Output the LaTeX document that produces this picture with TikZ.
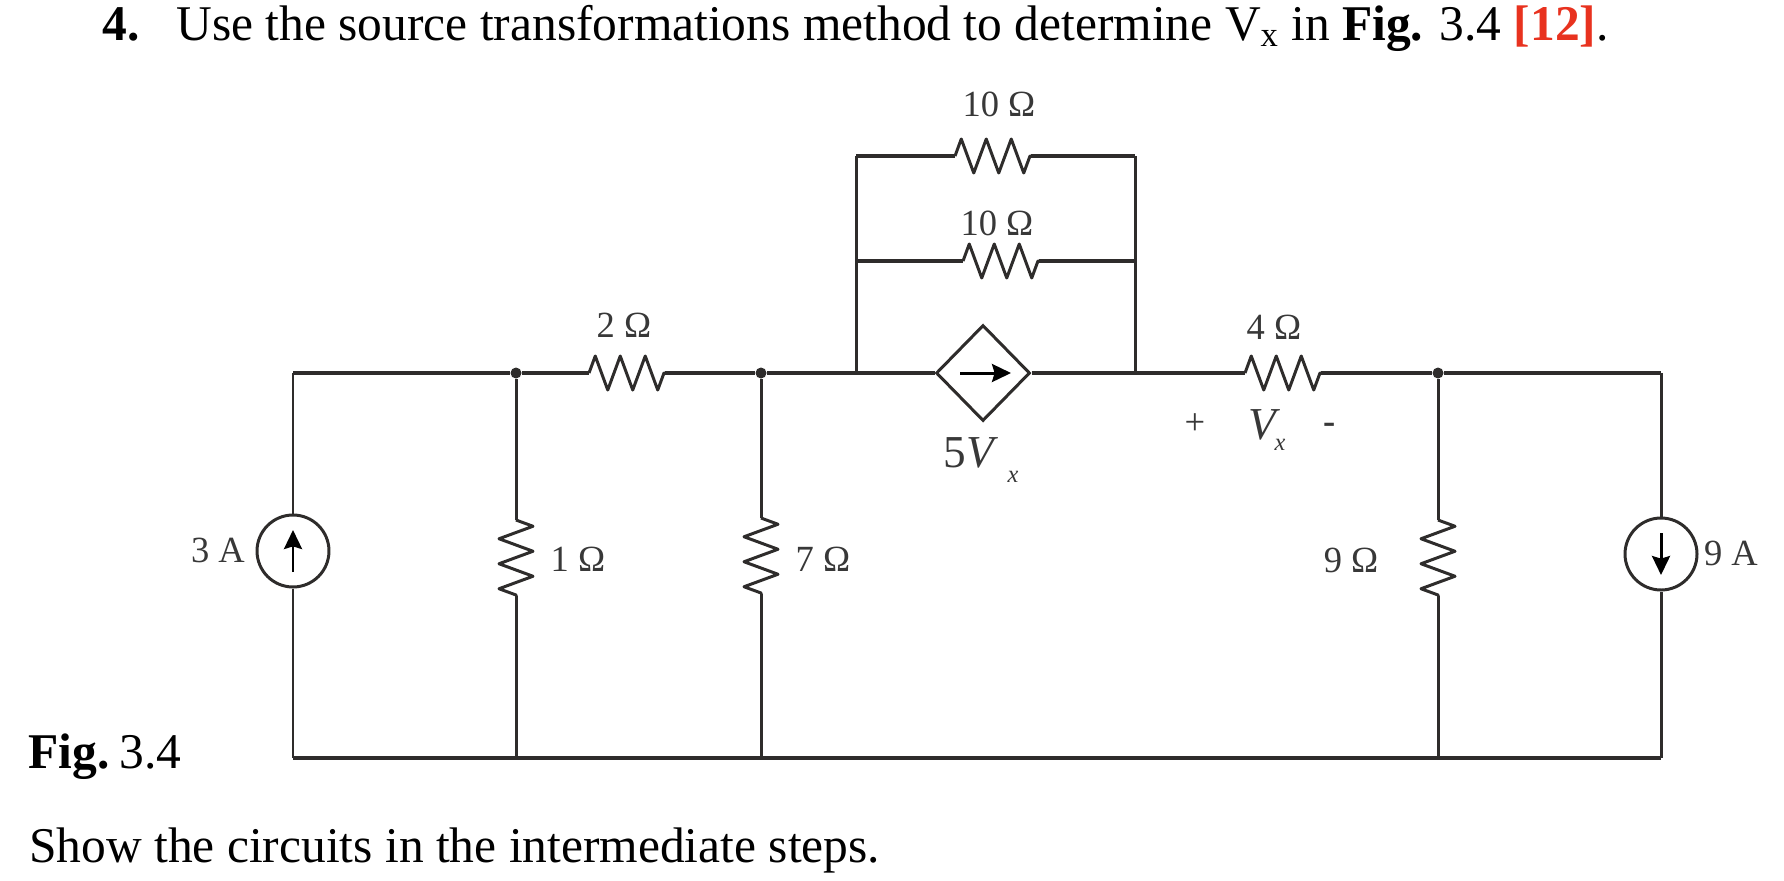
\documentclass[tikz,border=0pt]{standalone}
\usepackage{fontspec}
\setmainfont[FakeStretch=0.99]{Liberation Serif}
\usetikzlibrary{arrows.meta, decorations.pathmorphing, shapes.geometric}

\definecolor{wirecol}{HTML}{2E2C2B}
\definecolor{redmark}{HTML}{E8321F}

\tikzset{
  wire/.style={draw=wirecol, line width=1.7pt},
  rail/.style={draw=wirecol, line width=2.2pt},
  res/.style={wire, line join=round, decorate, decoration={zigzag, amplitude=0.34cm, segment length=0.5cm}},
  source/.style={circle, wire, minimum size=1.44cm, inner sep=0pt},
  ctrl/.style={diamond, wire, minimum width=1.88cm, minimum height=1.92cm, inner sep=0pt},
  junct/.style={circle, fill=wirecol, minimum size=0.22cm, inner sep=0pt},
  tip/.style={draw=black, line width=1.7pt, -{Stealth[length=0.38cm, width=0.36cm, inset=1.5pt]}},
  val/.style={inner sep=0pt, text=black!78, font=\fontsize{21}{25}\selectfont},
  big/.style={inner sep=0pt, text=black!78, font=\fontsize{26}{30}\selectfont\itshape},
  para/.style={inner sep=0pt, anchor=base west, font=\fontsize{28.45}{34}\selectfont}
}

\begin{document}
\begin{tikzpicture}[x=0.02cm, y=-0.02cm]
\useasboundingbox (0, 0) rectangle (1784, 880);

\path (293, 551) node[source] (s0) {}
      (1661, 554) node[source] (s1) {}
      (983, 373) node[ctrl] (d0) {}
      (516, 373) node[junct] (j0) {}
      (761, 373) node[junct] (j1) {}
      (1438, 373) node[junct] (j2) {};

\path (293, 373) coordinate (c0)
      (856, 373) coordinate (c1)
      (1135, 373) coordinate (c2)
      (1661, 373) coordinate (c3)
      (856, 156) coordinate (c4)
      (1135, 156) coordinate (c5)
      (856, 261) coordinate (c6)
      (1135, 261) coordinate (c7)
      (293, 758) coordinate (b0)
      (516, 758) coordinate (b1)
      (761, 758) coordinate (b2)
      (1438, 758) coordinate (b3)
      (1661, 758) coordinate (b4);

\path (589, 373) coordinate (r0a)   (665, 373) coordinate (r0b)
      (955, 156) coordinate (r1a)   (1031, 156) coordinate (r1b)
      (963, 261) coordinate (r2a)   (1039, 261) coordinate (r2b)
      (1245, 373) coordinate (r3a)  (1321, 373) coordinate (r3b)
      (516, 520) coordinate (r4a)   (516, 596) coordinate (r4b)
      (761, 518) coordinate (r5a)   (761, 594) coordinate (r5b)
      (1438, 520) coordinate (r6a)  (1438, 596) coordinate (r6b);

\draw[rail] (c0) -- (j0) -- (r0a);
\draw[rail] (r0b) -- (j1) -- (c1) -- (d0);
\draw[rail] (d0) -- (c2) -- (r3a);
\draw[rail] (r3b) -- (j2) -- (c3);
\draw[rail] (b0) -- (b1) -- (b2) -- (b3) -- (b4);
\draw[rail] (c4) -- (r1a);
\draw[rail] (r1b) -- (c5);
\draw[rail] (c6) -- (r2a);
\draw[rail] (r2b) -- (c7);

\draw[wire] (c1) -- (c6) -- (c4);
\draw[wire] (c2) -- (c7) -- (c5);
\draw[wire] (c0) -- (s0);
\draw[wire] (s0) -- (b0);
\draw[wire] (c3) -- (s1);
\draw[wire] (s1) -- (b4);
\draw[wire] (j0) -- (r4a);
\draw[wire] (r4b) -- (b1);
\draw[wire] (j1) -- (r5a);
\draw[wire] (r5b) -- (b2);
\draw[wire] (j2) -- (r6a);
\draw[wire] (r6b) -- (b3);

\draw[res] (r0a) -- (r0b);
\draw[res] (r1a) -- (r1b);
\draw[res] (r2a) -- (r2b);
\draw[res] (r3a) -- (r3b);
\draw[res] (r4a) -- (r4b);
\draw[res] (r5a) -- (r5b);
\draw[res] (r6a) -- (r6b);

\path (293, 572) coordinate (a0a)   (293, 530) coordinate (a0b)
      (1661, 533) coordinate (a1a)  (1661, 575) coordinate (a1b)
      (960, 373) coordinate (a2a)   (1011, 373) coordinate (a2b);
\draw[tip] (a0a) -- (a0b);
\draw[tip] (a1a) -- (a1b);
\draw[tip] (a2a) -- (a2b);

\path (624, 325) node[val] (l0) {2 Ω}
      (999, 104) node[val] (l1) {10 Ω}
      (997, 223) node[val] (l2) {10 Ω}
      (1274, 327) node[val] (l3) {4 Ω}
      (578, 559) node[val] (l4) {1 Ω}
      (823, 559) node[val] (l5) {7 Ω}
      (1351, 560) node[val] (l6) {9 Ω}
      (218, 550) node[val] (l7) {3 A}
      (1731, 553) node[val] (l8) {9 A}
      (1195, 424) node[val] (l9) {+}
      (1330, 428) node[val] (l10) {\textbf{-}}
      (1262, 425) node[big] (v0) {V}
      (1280, 445) node[val, font=\fontsize{14}{16}\selectfont\itshape] (v1) {x}
      (969, 453) node[big] (v2) {\upshape 5\itshape V}
      (1013, 477) node[val, font=\fontsize{14}{16}\selectfont\itshape] (v3) {x};

\path (102, 40) node[para] (t0) {\textbf{4.}\hspace{0.74cm}Use the source transformations method to determine V\textsubscript{x} in \textbf{Fig.} 3.4 \textcolor{redmark}{\textbf{[12]}}.}
      (28, 768) node[para] (t1) {\textbf{Fig.}\hspace{0.2cm}3.4}
      (29, 862) node[para] (t2) {Show the circuits in the intermediate steps.};

\end{tikzpicture}
\end{document}
